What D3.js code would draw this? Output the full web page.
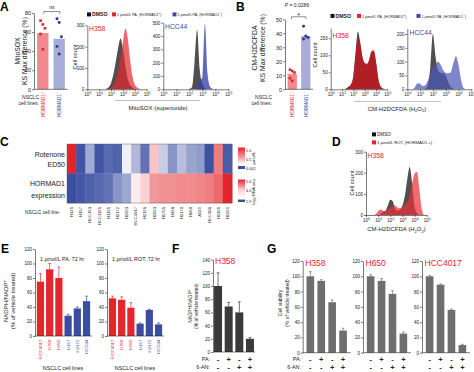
<!DOCTYPE html>
<html><head><meta charset="utf-8">
<script src="https://cdn.jsdelivr.net/npm/d3@7"></script>
<style>
body{margin:0;background:#fff}
svg{font-family:"Liberation Sans",Arial,sans-serif;display:block}
</style></head><body>
<svg width="474" height="372"></svg>
<script>
// ---- data ----
var groupsA = ["HORMAD1+", "HORMAD1-"];
var mitoPos = [72, 68, 64, 58, 42];
var mitoNeg = [74, 70, 55, 45, 37];
var mitoBar = [59, 53];
var h2o2Pos = [14, 13, 12, 8, 6];
var h2o2Neg = [45, 38, 37, 36];
var h2o2Bar = [11, 38];

// histogram counts on a log10 grid
var logGrid = [0,0.2,0.4,0.6,0.8,1,1.2,1.4,1.6,1.8,2,2.2,2.4,2.6,2.8,3,3.2,3.4,3.6,3.8,4,4.2,4.4,4.6,4.8,5];
var mitoH358Dmso = [0,0,0,0,0,0,0,0,3,10,30,70,130,195,238,190,110,50,20,8,3,0,0,0,0,0];
var mitoH358PA   = [0,0,0,0,0,0,0,0,0,2,8,20,45,90,150,220,285,240,140,60,22,8,2,0,0,0];
var mitoHCC44Dmso= [0,0,0,0,0,0,0,0,0,0,3,15,200,445,150,40,10,0,0,0,0,0,0,0,0,0];
var mitoHCC44PA  = [0,0,0,0,0,0,0,0,0,0,0,0,0,5,60,90,490,120,20,5,0,0,0,0,0,0];
var h2o2H358Dmso = [0,0,0,0,0,0,0,3,8,15,40,110,170,140,95,75,72,85,108,112,80,30,8,2,0,0];
var h2o2H358PA   = [0,0,0,0,0,0,0,3,8,15,35,100,150,135,95,78,75,88,112,115,82,32,9,2,0,0];
var h2o2HCC44Dmso= [0,0,0,0,0,0,0,2,15,80,200,120,70,60,58,50,25,8,2,0,0,0,0,0,0,0];
var h2o2HCC44PA  = [0,0,0,8,22,20,12,15,30,55,75,90,100,90,70,60,58,62,95,120,90,35,5,0,0,0];
var rotH358Dmso  = [0,0,0,0,0,0,5,15,20,45,72,65,30,20,25,45,90,170,228,150,40,8,0,0,0,0];
var rotH358Rot   = [0,0,0,0,5,18,26,20,18,25,35,42,45,35,32,38,50,60,90,150,195,205,120,25,0,0];

// heatmap
var cellLines = ["H125","H157","HCC193","HCC1195","H1155","H2172","H1993","HCC4017","H2126","H2023","H1755","H358","H2170","H650","A549","HCC366","H1395","H1299"];
var rotEd50 = [1.0, 0.01, 0.13, 0.01, 0.04, 0.03, 0.23, 0.15, 0.05, 0.45, 0.18, 0.1, 0.16, 0.12, 0.11, 0.005, 0.7, 0.02];
var hormad1Expr = [2.9, 2.95, 3.0, 3.05, 3.1, 3.3, 3.4, 4.05, 4.25, 4.7, 4.75, 4.75, 4.8, 4.8, 4.85, 4.9, 5.05, 5.6];

// E
var eLines = ["HCC4017","H358","H650","H157","H2172","HCC44"];
var eHormad = ["+","+","+","-","-","-"];
var paNadph = [75, 92, 80, 28, 38, 48];
var paNadphErr = [11, 8, 15, 2, 2, 7];
var rotNadph = [52, 50, 39, 17, 36, 16];
var rotNadphErr = [3, 4, 7, 1, 1, 2];

// F, G
var treatments = ["vehicle","PA","6-AN","PA+6-AN"];
var signPA = ["-","+","-","+"];
var sign6AN = ["-","-","+","+"];
var fNadph = [100, 69, 60, 20];
var fNadphErr = [20, 6, 16, 2];
var gLines = ["H358","H650","HCC4017"];
var viab = [[100, 94, 66, 29], [100, 94, 77, 25], [100, 89, 56, 10]];
var viabErr = [[6, 1.5, 3, 3], [2, 3, 4, 2], [1, 1, 1, 1]];

// ---- drawing ----
var RED = "#e3262b", BLUE = "#3a4da0", PINK = "#f08a8e", LAV = "#a9acd9", INK = "#222";
var svg = d3.select("svg");

function label(x, y, s, size, attrs) {
  var t = svg.append("text").attr("x", x).attr("y", y).attr("font-size", size).attr("fill", INK).text(s);
  if (attrs) for (var k in attrs) t.attr(k, attrs[k]);
  return t;
}
function vtext(x, y, s, size, anchor) {
  return svg.append("text").attr("transform", "translate(" + x + "," + y + ") rotate(-90)")
    .attr("text-anchor", anchor || "middle").attr("font-size", size).attr("fill", INK).text(s);
}
function sup(t, s, size) { t.append("tspan").attr("dy", -1.6).attr("font-size", size).text(s); return t; }
function styleAxis(a, size) {
  a.attr("font-family", null).attr("font-size", null);
  a.select(".domain").attr("stroke", INK).attr("stroke-width", 0.6);
  a.selectAll(".tick line").attr("stroke", INK).attr("stroke-width", 0.6);
  a.selectAll(".tick text").attr("font-size", size).attr("fill", INK);
}
function leftAxis(x, y, ticks, size) {
  var a = svg.append("g").attr("transform", "translate(" + x + ",0)")
    .call(d3.axisLeft(y).tickValues(ticks).tickSize(2).tickPadding(1).tickSizeOuter(0));
  styleAxis(a, size);
  return a;
}
function hline(x1, x2, y, col, w) {
  svg.append("line").attr("x1", x1).attr("x2", x2).attr("y1", y).attr("y2", y)
    .attr("stroke", col || INK).attr("stroke-width", w || 0.6);
}
function legendItem(x, y, col, s, size, bold) {
  svg.append("rect").attr("x", x).attr("y", y - 3.6).attr("width", 4).attr("height", 4).attr("fill", col);
  return label(x + 5, y, s, size, bold ? {"font-weight": "bold"} : null);
}

// panel letters
[["A",0,11],["B",236,11],["C",0,146],["D",332,146],["E",1,253],["F",172,253],["G",267,253]].forEach(function(p) {
  label(p[1], p[2], p[0], 12, {"font-weight": "bold", fill: "#000"});
});

// ---- dot + bar panels (A, B) ----
function dotBar(axisX, x0, x1, y, ticks, bars, pts) {
  var x = d3.scaleBand().domain(groupsA).range([x0, x1]).paddingInner(0.31).paddingOuter(0.19);
  svg.append("g").selectAll("rect").data(bars).enter().append("rect")
    .attr("x", function(d, i) { return x(groupsA[i]); })
    .attr("y", function(d) { return y(d); })
    .attr("width", x.bandwidth())
    .attr("height", function(d) { return y(0) - y(d); })
    .attr("fill", function(d, i) { return i ? LAV : PINK; });
  pts.forEach(function(arr, gi) {
    var cx = x(groupsA[gi]) + x.bandwidth() / 2;
    svg.append("g").selectAll("path").data(arr).enter().append("path")
      .attr("d", d3.symbol().type(gi ? d3.symbolCircle : d3.symbolSquare).size(7))
      .attr("transform", function(d, i) { return "translate(" + (cx + ((i % 3) - 1) * 2.2) + "," + y(d) + ")"; })
      .attr("fill", gi ? "#2b3a8c" : RED);
  });
  leftAxis(axisX, y, ticks, 5.5);
  hline(axisX, x1, y(0));
  groupsA.forEach(function(gname, i) {
    var t = vtext(x(gname) + x.bandwidth() / 2 + 1.8, 92, "HORMAD1", 4.6, "end").attr("fill", i ? BLUE : RED);
    sup(t, i ? "\u2212" : "+", 3.5);
  });
  return x;
}

// A
var yA = d3.scaleLinear().domain([0, 80]).range([89.3, 13]);
dotBar(34, 34, 68, yA, [0, 20, 40, 60, 80], mitoBar, [mitoPos, mitoNeg]);
svg.append("path").attr("d", "M43.8,14V11.5H59.8V14").attr("fill", "none").attr("stroke", INK).attr("stroke-width", 0.5);
label(51.8, 9, "ns", 5, {"text-anchor": "middle"});
vtext(20, 51, "MitoSOX", 6.8);
vtext(26.5, 51, "KS Max difference (%)", 6.8);
label(39, 98.5, "NSCLC", 5, {"text-anchor": "end"});
label(39, 105, "cell lines:", 5, {"text-anchor": "end"});

// B
var yB = d3.scaleLinear().domain([0, 50]).range([89.3, 19.3]);
dotBar(285, 285, 313, yB, [0, 10, 20, 30, 40, 50], h2o2Bar, [h2o2Pos, h2o2Neg]);
svg.append("path").attr("d", "M291.5,19V16.8H306V19").attr("fill", "none").attr("stroke", INK).attr("stroke-width", 0.5);
label(298.8, 17.5, "*", 6.5, {"text-anchor": "middle"});
var pt = label(297, 6.5, "", 5, {"text-anchor": "middle"});
pt.append("tspan").attr("font-style", "italic").text("P");
pt.append("tspan").text(" = 0.0286");
vtext(257, 48, "CM-H2DCFDA", 6.8);
vtext(264.5, 48, "KS Max difference (%)", 6.8);
label(272, 98.5, "NSCLC", 5, {"text-anchor": "end"});
label(272, 105, "cell lines:", 5, {"text-anchor": "end"});

// ---- histograms ----
function histo(x0, x1, yBot, yTop, yMax, yTicks, layers) {
  var x = d3.scaleLinear().domain([0, 5]).range([x0, x1]);
  var y = d3.scaleLinear().domain([0, yMax]).range([yBot, yTop]);
  var area = d3.area()
    .x(function(d, i) { return x(logGrid[i]); })
    .y0(yBot)
    .y1(function(d) { return y(d); })
    .curve(d3.curveMonotoneX);
  layers.forEach(function(l) {
    svg.append("path").datum(l[0]).attr("d", area).attr("fill", l[1]).attr("fill-opacity", l[2]);
  });
  leftAxis(x0, y, yTicks, 4.6);
  var ax = svg.append("g").attr("transform", "translate(0," + yBot + ")")
    .call(d3.axisBottom(x).tickValues([0, 1, 2, 3, 4, 5]).tickSize(2).tickPadding(1.5).tickSizeOuter(0));
  styleAxis(ax, 4.6);
  ax.selectAll(".tick text").each(function(d) {
    var t = d3.select(this).text("10");
    t.append("tspan").attr("dy", -1.8).attr("font-size", 3.4).text(d);
  });
  return {x: x, y: y};
}
var GRAY = "#3d3d3d";

// A legend + histos
legendItem(87, 16, "#111", "DMSO", 5.2, true);
sup(legendItem(112, 16, RED, "1 \u00b5mol/L PA, (HORMAD1", 3.7), "+", 3).append("tspan").attr("dy", 1.6).text(")");
sup(legendItem(172.5, 16, BLUE, "1 \u00b5mol/L PA, (HORMAD1", 3.7), "\u2212", 3).append("tspan").attr("dy", 1.6).text(")");
histo(87.3, 146.7, 89.3, 25.3, 300, [0, 100, 200, 300], [[mitoH358Dmso, GRAY, 0.9], [mitoH358PA, RED, 0.7]]);
histo(163.3, 228.3, 89.3, 22.7, 500, [0, 100, 200, 300, 400, 500], [[mitoHCC44Dmso, GRAY, 0.9], [mitoHCC44PA, "#3343a6", 0.78]]);
label(89, 31, "H358", 6.8, {fill: RED});
label(165, 29, "HCC44", 6.8, {fill: BLUE});
vtext(77, 57, "Cell count", 5.6);
hline(115, 200, 100.5, "#999", 0.6);
label(158, 109.5, "MitoSOX (superoxide)", 6, {"text-anchor": "middle"});

// B legend + histos
legendItem(330.5, 17.5, "#111", "DMSO", 5.2, true);
sup(legendItem(357, 17.5, RED, "1 \u00b5mol/L PA, (HORMAD1", 3.7), "+", 3).append("tspan").attr("dy", 1.6).text(")");
sup(legendItem(416.5, 17.5, BLUE, "1 \u00b5mol/L PA, (HORMAD1", 3.7), "\u2212", 3).append("tspan").attr("dy", 1.6).text(")");
histo(330.7, 387.3, 89.3, 28.1, 180, [0, 50, 100, 150], [[h2o2H358Dmso, GRAY, 0.9], [h2o2H358PA, "#c8141c", 0.82]]);
histo(407.3, 471.3, 89.3, 28.5, 220, [0, 50, 100, 150, 200], [[h2o2HCC44Dmso, GRAY, 0.9], [h2o2HCC44PA, "#4b57b5", 0.72]]);
label(332.5, 38, "H358", 6.8, {fill: RED});
label(409.5, 35, "HCC44", 6.8, {fill: BLUE});
vtext(317, 55, "Cell count", 5.6);
hline(354, 441, 101.5, "#999", 0.6);
var tB = label(397, 110.5, "CM-H2DCFDA (H", 6, {"text-anchor": "middle"});
tB.append("tspan").attr("dy", 1.5).attr("font-size", 4.2).text("2");
tB.append("tspan").attr("dy", -1.5).text("O");
tB.append("tspan").attr("dy", 1.5).attr("font-size", 4.2).text("2");
tB.append("tspan").attr("dy", -1.5).text(")");

// ---- C heatmap ----
var HB = "#3b4fa1", HR = "#e42428";
var rotColor = d3.scaleLinear().domain([0.002, 0.25, 1.0]).range([HB, "#ffffff", HR]);
var hormColor = d3.scaleLinear().domain([2.9, 3.9, 5.6]).range([HB, "#ffffff", HR]);
var hx = d3.scaleBand().domain(cellLines).range([67, 232]);
var rows = [{key: "rot", vals: rotEd50, col: rotColor}, {key: "hormad", vals: hormad1Expr, col: hormColor}];
var hy = d3.scaleBand().domain(rows.map(function(r) { return r.key; })).range([144, 203]);
rows.forEach(function(r) {
  svg.append("g").selectAll("rect").data(r.vals).enter().append("rect")
    .attr("x", function(d, i) { return hx(cellLines[i]); })
    .attr("y", hy(r.key))
    .attr("width", hx.bandwidth() + 0.4)
    .attr("height", hy.bandwidth() + 0.3)
    .attr("fill", function(d) { return r.col(d); });
});
svg.append("rect").attr("x", 67).attr("y", 144).attr("width", 165).attr("height", 59)
  .attr("fill", "none").attr("stroke", "#555").attr("stroke-width", 0.4);
label(65, 157, "Rotenone", 7, {"text-anchor": "end"});
label(65, 166.5, "ED50", 7, {"text-anchor": "end"});
label(65, 186, "HORMAD1", 7, {"text-anchor": "end"});
label(65, 197.5, "expression", 7, {"text-anchor": "end"});
label(60, 214, "NSCLC cell line:", 4.8, {"text-anchor": "end"});
cellLines.forEach(function(c) {
  vtext(hx(c) + hx.bandwidth() / 2 + 1.5, 207, c, 4.2, "end");
});
// colour legends
var defs = svg.append("defs");
function gradLegend(id, stops, y0, h, ticks) {
  var gr = defs.append("linearGradient").attr("id", id).attr("x1", 0).attr("x2", 0).attr("y1", 0).attr("y2", 1);
  stops.forEach(function(s) { gr.append("stop").attr("offset", s[0]).attr("stop-color", s[1]); });
  svg.append("rect").attr("x", 238).attr("y", y0).attr("width", 7).attr("height", h).attr("fill", "url(#" + id + ")");
  ticks.forEach(function(t) { label(246, t[1], t[0], 3.8); });
}
gradLegend("gRot", [[0, rotColor(1.0)], [0.55, rotColor(0.5)], [0.78, "#ffffff"], [0.86, "#ffffff"], [0.88, HB], [1, HB]], 147.5, 21.5,
  [["1.0", 151.5], ["0.5", 161], ["0.002", 169.5]]);
gradLegend("gHor", [[0, hormColor(5.6)], [0.45, hormColor(4.3)], [0.8, "#ffffff"], [0.88, "#ffffff"], [0.9, HB], [1, HB]], 179.5, 22.5,
  [["5.6", 183], ["4.0", 192], ["2.9", 202.5]]);
vtext(255, 158, "\u00b5mol/L", 4.3);
var lr = vtext(255, 192, "log", 4.3);
lr.append("tspan").attr("dy", 1.2).attr("font-size", 3.2).text("2");
lr.append("tspan").attr("dy", -1.2).text(" RNA seq");

// ---- D ----
legendItem(372, 136, "#111", "DMSO", 4.6);
legendItem(372, 144, RED, "1 \u00b5mol/L ROT, (HORMAD1 +)", 4.2);
histo(366, 426.7, 215, 151.7, 300, [0, 100, 200, 300], [[rotH358Dmso, GRAY, 0.9], [rotH358Rot, "#ea3038", 0.72]]);
label(367.5, 158, "H358", 6.8, {fill: RED});
vtext(354, 183, "Cell count", 5.6);
var tD = label(396.5, 231, "CM-H2DCFDA (H", 6, {"text-anchor": "middle"});
tD.append("tspan").attr("dy", 1.5).attr("font-size", 4.2).text("2");
tD.append("tspan").attr("dy", -1.5).text("O");
tD.append("tspan").attr("dy", 1.5).attr("font-size", 4.2).text("2");
tD.append("tspan").attr("dy", -1.5).text(")");

// ---- bar charts with error bars (E, F, G) ----
function errBars(cats, vals, errs, axisX, x1, y, ticks, colorOf, pi, po) {
  var x = d3.scaleBand().domain(cats).range([axisX, x1]).paddingInner(pi).paddingOuter(po);
  var g = svg.append("g");
  g.selectAll("path").data(vals).enter().append("path")
    .attr("d", function(d, i) {
      var cx = x(cats[i]) + x.bandwidth() / 2, ye = y(d + errs[i]);
      return "M" + cx + "," + y(d) + "V" + ye + "M" + (cx - 1.4) + "," + ye + "H" + (cx + 1.4);
    })
    .attr("stroke", function(d, i) { return colorOf(i); }).attr("stroke-width", 0.7).attr("fill", "none");
  g.selectAll("rect").data(vals).enter().append("rect")
    .attr("x", function(d, i) { return x(cats[i]); })
    .attr("y", function(d) { return y(d); })
    .attr("width", x.bandwidth())
    .attr("height", function(d) { return y(0) - y(d); })
    .attr("fill", function(d, i) { return colorOf(i); });
  leftAxis(axisX, y, ticks, 4.5);
  hline(axisX, x1, y(0));
  return x;
}

// E
var yE = d3.scaleLinear().domain([0, 120]).range([336, 249]);
var eCol = function(i) { return eHormad[i] === "+" ? RED : BLUE; };
var eTicks = [0, 20, 40, 60, 80, 100, 120];
[[35, paNadph, paNadphErr, "1 \u00b5mol/L PA, 72 hr", 63], [107, rotNadph, rotNadphErr, "1 \u00b5mol/L ROT, 72 hr", 135]].forEach(function(c) {
  var x = errBars(eLines, c[1], c[2], c[0], c[0] + 57, yE, eTicks, eCol, 0.22, 0.2);
  eLines.forEach(function(n, i) {
    vtext(x(n) + x.bandwidth() / 2 + 1.6, 339.5, n, 4.4, "end").attr("fill", eCol(i));
  });
  label(c[0] + 5, 261, c[3], 5.4);
  label(c[4], 369.5, "NSCLC cell lines", 5.4, {"text-anchor": "middle"});
});
vtext(7.5, 301, "NADPH/NADP", 6);
sup(d3.select(svg.node().lastChild), "+", 4.5);
vtext(14.5, 301, "(% of vehicle treated)", 6);

// F
var yF = d3.scaleLinear().domain([0, 140]).range([352, 259.6]);
var xF = errBars(treatments, fNadph, fNadphErr, 213, 255, yF, [0, 20, 40, 60, 80, 100, 120, 140], function() { return "#3a3a3a"; }, 0.25, 0.1);
label(215, 264, "H358", 8.5, {fill: RED});
vtext(191.5, 306, "NADPH/NADP", 4.8);
sup(d3.select(svg.node().lastChild), "+", 3.6);
vtext(197.5, 306, "(% of vehicle treated)", 4.8);
function signRows(x, labelX) {
  if (labelX) {
    label(labelX, 361, "PA:", 5.4, {"text-anchor": "end"});
    label(labelX, 369, "6-AN:", 5.4, {"text-anchor": "end"});
  }
  treatments.forEach(function(t, i) {
    var cx = x(t) + x.bandwidth() / 2;
    label(cx, 362, signPA[i], 7.5, {"text-anchor": "middle", "font-weight": "bold"});
    label(cx, 370, sign6AN[i], 7.5, {"text-anchor": "middle", "font-weight": "bold"});
  });
}
signRows(xF, 210);

// G
var yG = d3.scaleLinear().domain([0, 120]).range([352.7, 261]);
var gAxes = [302.7, 363, 422];
gLines.forEach(function(n, k) {
  var x = errBars(treatments, viab[k], viabErr[k], gAxes[k], gAxes[k] + 48, yG, [0, 20, 40, 60, 80, 100, 120], function() { return "#6e6e6e"; }, 0.3, 0.35);
  label(gAxes[k] + 2.5, 265.5, n, 8.5, {fill: RED});
  signRows(x, k === 0 ? 301 : 0);
});
vtext(282, 303, "Cell viability", 5);
vtext(288.5, 303, "(% of vehicle treated)", 5);
</script></body></html>
